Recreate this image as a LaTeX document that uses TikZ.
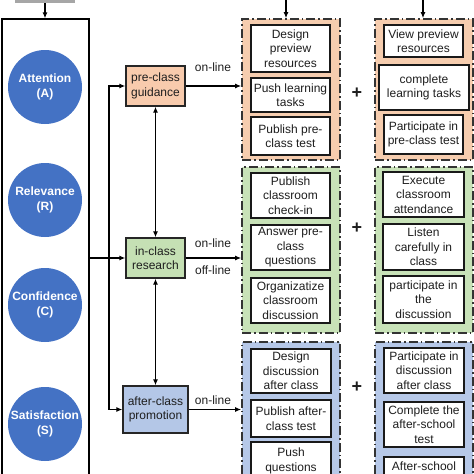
\documentclass[tikz,border=0pt]{standalone}
\usepackage{fontspec}
\setmainfont{Liberation Sans}
\usetikzlibrary{arrows.meta}
\definecolor{circblue}{HTML}{4472C4}
\definecolor{peach}{HTML}{F8CBAD}
\definecolor{peachbg}{HTML}{F6CDAF}
\definecolor{grn}{HTML}{C5E0B4}
\definecolor{grnbg}{HTML}{C8E2B8}
\definecolor{blu}{HTML}{B4C7E7}
\definecolor{blubg}{HTML}{B6C8E8}
\definecolor{txt}{HTML}{1E1E1E}
\begin{document}
\begin{tikzpicture}[x=1pt,y=-1pt,
  font=\fontsize{12}{14.5}\selectfont,
  arr/.style={-{Latex[length=6pt,width=5pt]}, line width=1.2pt},
  darr/.style={{Latex[length=6pt,width=5pt]}-{Latex[length=6pt,width=5pt]}, line width=1.2pt},
  circnode/.style={circle, fill=circblue, minimum size=74pt, inner sep=0pt, text=white,
    font=\fontsize{12}{14.5}\selectfont\bfseries, align=center},
  procbox/.style={draw=black!85, line width=1.3pt, align=center, inner sep=0pt, text=txt},
  grp/.style={draw=black!80, line width=1.6pt, dash pattern=on 9pt off 3pt on 1.5pt off 3pt},
  itembox/.style={draw=black!90, fill=white, line width=1.4pt, align=center, inner sep=0pt, text=txt},
  lbl/.style={inner sep=0pt, text=txt},
  plus/.style={inner sep=0pt, font=\fontsize{18}{18}\selectfont\bfseries, text=txt}
]
\useasboundingbox (0,0) rectangle (474,474);
\clip (0,0) rectangle (474,474);

% source box (cut) and the tall frame
\node[fill=black!35, minimum width=60pt, minimum height=16pt, inner sep=0pt] (src) at (45,-5) {};
\node[draw=black, line width=1.2pt, minimum width=87pt, minimum height=470pt, inner sep=0pt] (frame) at (45.5,254) {};
\draw[arr] (src.south) -- (src.south |- frame.north);

% ARCS circles
\node[circnode] (att) at (45,87) {Attention\\(A)};
\node[circnode] (rel) at (45,200) {Relevance\\(R)};
\node[circnode] (con) at (45,305) {Confidence\\(C)};
\node[circnode] (sat) at (45,424) {Satisfaction\\(S)};

% process boxes
\node[procbox, fill=peach, minimum width=59pt, minimum height=40pt] (pre) at (155.5,86) {pre-class\\guidance};
\node[procbox, fill=grn, minimum width=59pt, minimum height=40pt] (inc) at (155.5,258) {in-class\\research};
\node[procbox, fill=blu, minimum width=65pt, minimum height=47pt] (aft) at (155.5,409.5) {after-class\\promotion};

% connectors from frame
\coordinate (j) at (109,258);
\draw[arr] (frame.east |- inc.west) -- (inc.west);
\draw[arr] (j) |- (pre.west);
\draw[arr] (j) |- (aft.west);
\draw[darr] (pre.south) -- (inc.north);
\draw[darr] (inc.south) -- (aft.north);

% groups
\node[grp, fill=peachbg, minimum width=98pt, minimum height=141pt, inner sep=0pt] (tg1) at (291,89.5) {};
\node[grp, fill=peachbg, minimum width=98pt, minimum height=141pt, inner sep=0pt] (sg1) at (424,89.5) {};
\node[grp, fill=grnbg, minimum width=98pt, minimum height=166pt, inner sep=0pt] (tg2) at (291,250) {};
\node[grp, fill=grnbg, minimum width=98pt, minimum height=166pt, inner sep=0pt] (sg2) at (424,250) {};
\node[grp, fill=blubg, minimum width=98pt, minimum height=160pt, inner sep=0pt] (tg3) at (291,422) {};
\node[grp, fill=blubg, minimum width=98pt, minimum height=160pt, inner sep=0pt] (sg3) at (424,422) {};

% top arrows
\coordinate (t1) at (286,0);
\coordinate (t2) at (423,0);
\draw[arr] (t1) -- (t1 |- tg1.north);
\draw[arr] (t2) -- (t2 |- sg1.north);

% arrows to groups with labels
\draw[arr] (pre.east) -- (pre.east -| tg1.west);
\draw[arr] (inc.east) -- (inc.east -| tg2.west);
\draw[arr] (aft.east) -- (aft.east -| tg3.west);
\node[lbl] (l1) at (213,67) {on-line};
\node[lbl] (l2) at (213,243) {on-line};
\node[lbl] (l3) at (213,270) {off-line};
\node[lbl] (l4) at (213,400) {on-line};

% plus signs
\node[plus] (p1) at (357,93) {+};
\node[plus] (p2) at (357,228) {+};
\node[plus] (p3) at (357,387) {+};

% orange items
\node[itembox, minimum width=79pt, minimum height=47pt] (o1a) at (290.5,48.5) {Design\\preview\\resources};
\node[itembox, minimum width=79pt, minimum height=34pt] (o1b) at (290.5,95) {Push learning\\tasks};
\node[itembox, minimum width=79pt, minimum height=38pt] (o1c) at (290.5,136) {Publish pre-\\class test};
\node[itembox, minimum width=79pt, minimum height=32pt] (o2a) at (423.5,41) {View preview\\resources};
\node[itembox, minimum width=90pt, minimum height=45pt] (o2b) at (424,87.5) {complete\\learning tasks};
\node[itembox, minimum width=79pt, minimum height=39pt] (o2c) at (423.5,134.5) {Participate in\\pre-class test};

% green items
\node[itembox, minimum width=79pt, minimum height=45pt] (g1a) at (290.5,195.5) {Publish\\classroom\\check-in};
\node[itembox, minimum width=79pt, minimum height=45pt] (g1b) at (290.5,247.5) {Answer pre-\\class\\questions};
\node[itembox, minimum width=79pt, minimum height=45pt] (g1c) at (290.5,300.5) {Organizatize\\classroom\\discussion};
\node[itembox, minimum width=81pt, minimum height=45pt] (g2a) at (423.5,194.5) {Execute\\classroom\\attendance};
\node[itembox, minimum width=81pt, minimum height=46pt] (g2b) at (423.5,247) {Listen\\carefully in\\class};
\node[itembox, minimum width=81pt, minimum height=47pt] (g2c) at (423.5,299.5) {participate in\\the\\discussion};

% blue items
\node[itembox, minimum width=80pt, minimum height=44pt] (b1a) at (291,371) {Design\\discussion\\after class};
\node[itembox, minimum width=80pt, minimum height=37pt] (b1b) at (291,418.5) {Publish after-\\class test};
\node[itembox, minimum width=80pt, minimum height=50pt] (b1c) at (291,467) {Push\\questions\\{}};
\node[itembox, minimum width=80pt, minimum height=45pt] (b2a) at (424,370.5) {Participate in\\discussion\\after class};
\node[itembox, minimum width=80pt, minimum height=45pt] (b2b) at (424,424.5) {Complete the\\after-school\\test};
\node[itembox, minimum width=80pt, minimum height=32pt] (b2c) at (424,473) {After-school\\{}};
\end{tikzpicture}
\end{document}
